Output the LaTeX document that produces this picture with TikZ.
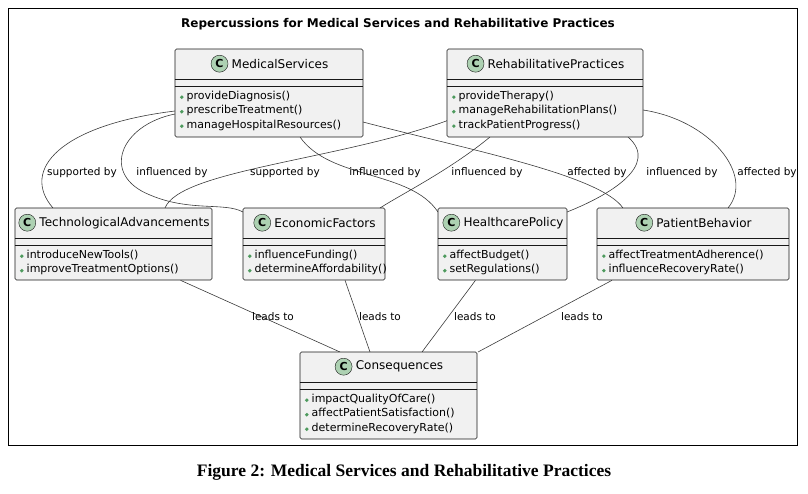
\documentclass[tikz,border=0pt]{standalone}
\usepackage{fontspec}
\setmainfont{DejaVu Sans}
\newfontfamily\capfont{Liberation Serif}
\definecolor{boxfill}{HTML}{F1F1F1}
\definecolor{boxline}{HTML}{181818}
\definecolor{iconfill}{HTML}{ADD1B2}
\definecolor{dotgreen}{HTML}{4E9A5E}
\newcommand{\umlclass}[7]{% name, left, top, width, height, title, methods
  \node[box, minimum width=#4pt, minimum height=#5pt] (#1) at (#2+#4/2,#3+#5/2) {};
  \draw[boxline] ([yshift=-30pt]#1.north west) -- ([yshift=-30pt]#1.north east);
  \draw[boxline] ([yshift=-37pt]#1.north west) -- ([yshift=-37pt]#1.north east);
  \node[title] (#1-t) at ([xshift=11pt,yshift=-15pt]#1.north) {#6};
  \node[icon] at ([xshift=-12pt]#1-t.west) {C};
  \node[meth, anchor=north west] (#1-m) at ([xshift=3pt,yshift=-40pt]#1.north west) {#7};
}
\newcommand{\mth}[1]{\tikz[baseline=-0.35ex]\fill[dotgreen] (0,0) circle (1.9pt);\hspace{3pt}#1}
\begin{document}
\begin{tikzpicture}[x=1pt,y=-1pt,
    box/.style={draw=boxline, fill=boxfill, line width=0.6pt, inner sep=0pt, rounded corners=1.5pt},
    title/.style={font=\fontsize{12}{14}\selectfont, inner sep=0pt},
    icon/.style={circle, draw=boxline, fill=iconfill, inner sep=0pt, minimum size=17pt, font=\fontsize{11}{13}\selectfont\bfseries},
    meth/.style={font=\fontsize{11}{14.5}\selectfont, align=left, inner sep=2pt},
    rel/.style={draw=boxline!85, line width=0.6pt},
    lbl/.style={font=\fontsize{10.5}{13}\selectfont, inner sep=1pt}
  ]
  \useasboundingbox (0,0) rectangle (808,493);
  \draw[line width=0.6pt] (8,8) rectangle (797,445);
  \node[font=\fontsize{12}{14}\selectfont\bfseries] (head) at (398,24) {Repercussions for Medical Services and Rehabilitative Practices};
  \node[font=\capfont\fontsize{17.5}{20}\selectfont\bfseries] (cap) at (404,472) {Figure 2: Medical Services and Rehabilitative Practices};

  % relations (drawn first, boxes on top)
  \coordinate (ms1) at (175,111); \coordinate (ms2) at (175,114);
  \coordinate (ms3) at (300,137); \coordinate (ms4) at (363,122);
  \coordinate (rp1) at (449,120); \coordinate (rp2) at (490,137);
  \coordinate (rp3) at (628,137); \coordinate (rp4) at (643,110);

  \draw[rel] (ms1) .. controls (60,125) and (20,170) .. (53,208);
  \draw[rel] (ms2) .. controls (120,125) and (100,175) .. (150,195) .. controls (190,212) and (225,202) .. (243,212);
  \draw[rel] (ms3) .. controls (330,180) and (410,170) .. (438,212);
  \draw[rel] (ms4) .. controls (470,150) and (600,175) .. (623,208);
  \draw[rel] (rp1) .. controls (340,160) and (180,170) .. (165,208);
  \draw[rel] (rp2) .. controls (450,170) and (400,195) .. (380,208);
  \draw[rel] (rp3) .. controls (660,165) and (610,195) .. (567,212);
  \draw[rel] (rp4) .. controls (710,120) and (755,175) .. (728,208);

  \node[lbl] (l1) at (82,173) {supported by};
  \node[lbl] (l2) at (172,173) {influenced by};
  \node[lbl] (l3) at (285,173) {supported by};
  \node[lbl] (l4) at (385,173) {influenced by};
  \node[lbl] (l5) at (487,173) {influenced by};
  \node[lbl] (l6) at (597,173) {affected by};
  \node[lbl] (l7) at (682,173) {influenced by};
  \node[lbl] (l8) at (767,173) {affected by};

  \umlclass{ms}{175}{49}{188}{88}{MedicalServices}{\mth{provideDiagnosis()}\\\mth{prescribeTreatment()}\\\mth{manageHospitalResources()}}
  \umlclass{rp}{447}{49}{196}{88}{RehabilitativePractices}{\mth{provideTherapy()}\\\mth{manageRehabilitationPlans()}\\\mth{trackPatientProgress()}}
  \umlclass{ta}{15}{208}{197}{72}{TechnologicalAdvancements}{\mth{introduceNewTools()}\\\mth{improveTreatmentOptions()}}
  \umlclass{ef}{243}{208}{142}{72}{EconomicFactors}{\mth{influenceFunding()}\\\mth{determineAffordability()}}
  \umlclass{hp}{438}{208}{129}{72}{HealthcarePolicy}{\mth{affectBudget()}\\\mth{setRegulations()}}
  \umlclass{pb}{597}{208}{192}{72}{PatientBehavior}{\mth{affectTreatmentAdherence()}\\\mth{influenceRecoveryRate()}}

  \coordinate (cq1) at (340,352); \coordinate (cq2) at (370,352);
  \coordinate (cq3) at (422,352); \coordinate (cq4) at (478,352);
  \draw[rel] ([xshift=67pt]ta.south) -- (cq1);
  \draw[rel] ([xshift=31pt]ef.south) -- (cq2);
  \draw[rel] ([xshift=-27pt]hp.south) -- (cq3);
  \draw[rel] ([xshift=-81pt]pb.south) -- (cq4);
  \node[lbl] (k1) at (273,317) {leads to};
  \node[lbl] (k2) at (380,317) {leads to};
  \node[lbl] (k3) at (475,317) {leads to};
  \node[lbl] (k4) at (582,317) {leads to};

  \umlclass{cq}{300}{352}{177}{87}{Consequences}{\mth{impactQualityOfCare()}\\\mth{affectPatientSatisfaction()}\\\mth{determineRecoveryRate()}}
\end{tikzpicture}
\end{document}
